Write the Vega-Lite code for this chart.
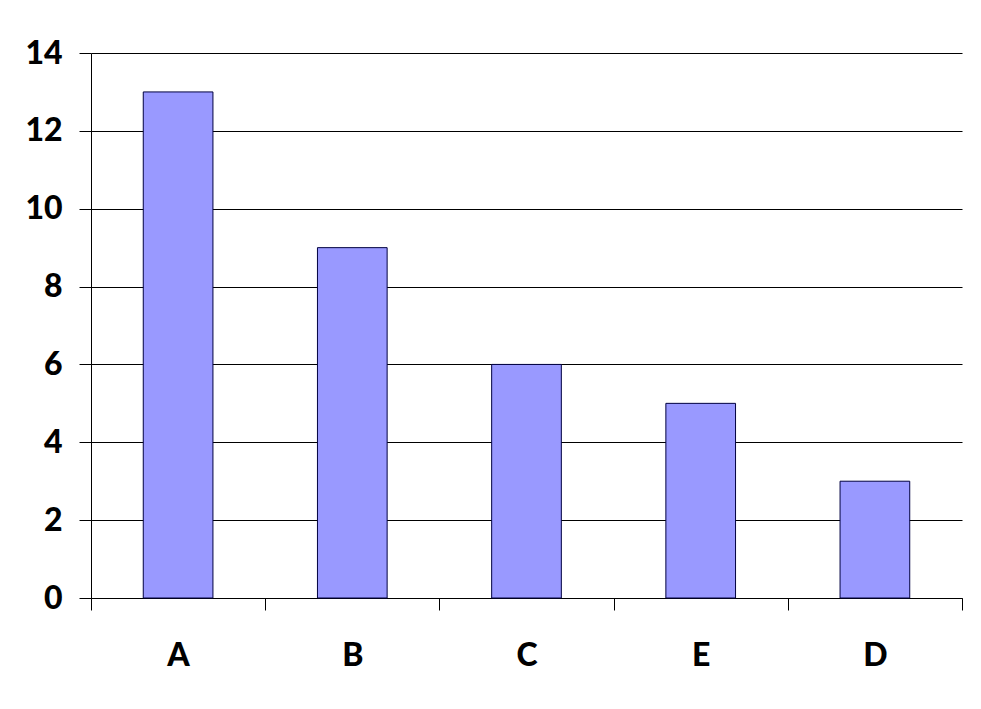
{
  "$schema": "https://vega.github.io/schema/vega-lite/v6.json",
  "autosize": "none",
  "width": 871,
  "height": 545,
  "padding": {"left": 91, "top": 53, "right": 19, "bottom": 111},
  "background": "white",
  "data": {
    "values": [
      {"cat": "A", "value": 13},
      {"cat": "B", "value": 9},
      {"cat": "C", "value": 6},
      {"cat": "E", "value": 5},
      {"cat": "D", "value": 3}
    ]
  },
  "mark": {"type": "bar", "color": "#9999FF", "stroke": "#000040", "strokeWidth": 1, "width": {"band": 0.4}},
  "encoding": {
    "x": {
      "field": "cat",
      "type": "nominal",
      "sort": null,
      "scale": {"paddingInner": 0, "paddingOuter": 0},
      "axis": {
        "title": null,
        "labelAngle": 0,
        "tickBand": "extent",
        "tickSize": 12,
        "labelPadding": 30,
        "domainColor": "black",
        "tickColor": "black"
      }
    },
    "y": {
      "field": "value",
      "type": "quantitative",
      "scale": {"domain": [0, 14], "nice": false},
      "axis": {
        "title": null,
        "values": [0, 2, 4, 6, 8, 10, 12, 14],
        "tickSize": 12,
        "labelPadding": 17,
        "grid": true,
        "gridColor": "black",
        "gridOpacity": 1,
        "domainColor": "black",
        "tickColor": "black"
      }
    }
  },
  "config": {
    "view": {"stroke": null},
    "axis": {
      "labelFont": "Lato",
      "labelFontWeight": 900,
      "labelFontSize": 32,
      "labelColor": "black",
      "domainWidth": 1,
      "tickWidth": 1,
      "gridWidth": 1
    }
  }
}
